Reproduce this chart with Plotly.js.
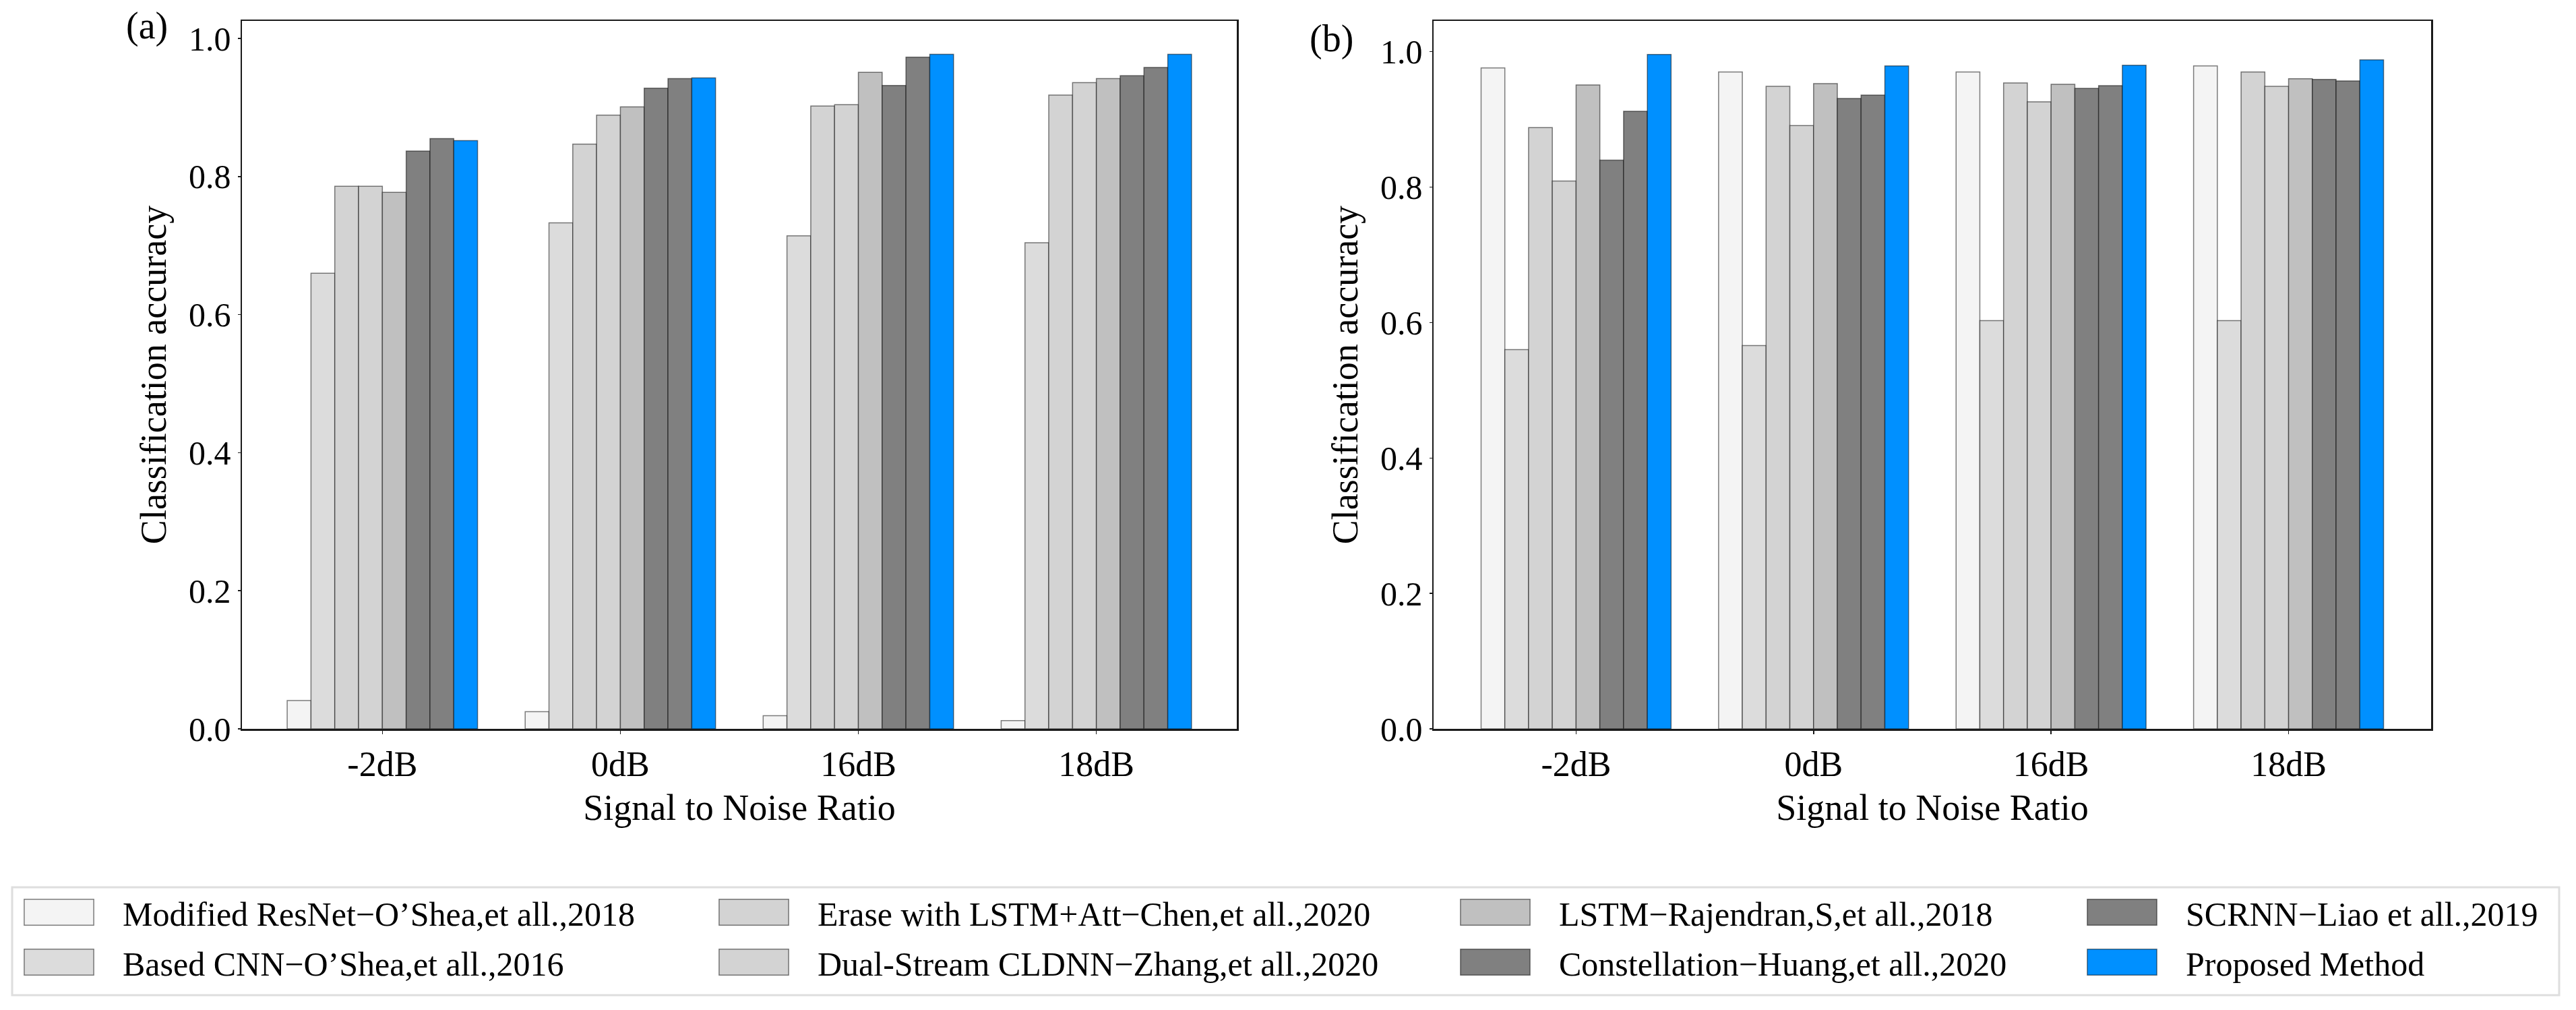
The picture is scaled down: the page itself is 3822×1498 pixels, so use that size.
<!DOCTYPE html>
<html>
<head>
<meta charset="utf-8">
<script src="https://cdn.plot.ly/plotly-3.0.1.min.js"></script>
<style>
  html, body { margin: 0; padding: 0; background: #ffffff; }
  #chart { width: 3822px; height: 1498px; }
  #chart svg text { font-family: 'Liberation Serif', 'Times New Roman', serif !important; }
</style>
</head>
<body>
<div id="chart"></div>
<script>
// ---------------- data ----------------
const categories = ['-2dB', '0dB', '16dB', '18dB'];

const seriesNames = [
  'Modified ResNet\u2212O\u2019Shea,et all.,2018',
  'Based CNN\u2212O\u2019Shea,et all.,2016',
  'Erase with LSTM+Att\u2212Chen,et all.,2020',
  'Dual-Stream CLDNN\u2212Zhang,et all.,2020',
  'LSTM\u2212Rajendran,S,et all.,2018',
  'Constellation\u2212Huang,et all.,2020',
  'SCRNN\u2212Liao et all.,2019',
  'Proposed Method'
];

const seriesColors = ['#f4f4f4', '#dcdcdc', '#d3d3d3', '#d3d3d3', '#c0c0c0', '#808080', '#808080', '#0090ff'];

// panel (a)
const resnetA = [0.041, 0.025, 0.019, 0.012];
const cnnA    = [0.660, 0.733, 0.714, 0.704];
const eraseA  = [0.786, 0.847, 0.902, 0.918];
const dualA   = [0.786, 0.889, 0.904, 0.936];
const lstmA   = [0.777, 0.901, 0.951, 0.942];
const constA  = [0.837, 0.928, 0.932, 0.946];
const scrnnA  = [0.855, 0.942, 0.973, 0.958];
const propA   = [0.852, 0.943, 0.977, 0.977];

// panel (b)
const resnetB = [0.976, 0.970, 0.970, 0.979];
const cnnB    = [0.560, 0.566, 0.603, 0.603];
const eraseB  = [0.888, 0.949, 0.954, 0.970];
const dualB   = [0.809, 0.891, 0.926, 0.949];
const lstmB   = [0.951, 0.953, 0.952, 0.960];
const constB  = [0.840, 0.931, 0.946, 0.959];
const scrnnB  = [0.912, 0.936, 0.950, 0.957];
const propB   = [0.996, 0.979, 0.980, 0.988];

const yTickVals = [0, 0.2, 0.4, 0.6, 0.8, 1.0];

// ---------------- build ----------------
const panelA = [resnetA, cnnA, eraseA, dualA, lstmA, constA, scrnnA, propA];
const panelB = [resnetB, cnnB, eraseB, dualB, lstmB, constB, scrnnB, propB];
const legendIds = ['legend', 'legend', 'legend2', 'legend2', 'legend3', 'legend3', 'legend4', 'legend4'];

const serifFamily = 'Liberation Serif';
const edgeColor = 'rgba(0,0,0,0.5)';

const traces = [];
panelA.forEach((vals, i) => {
  traces.push({
    type: 'bar', x: categories, y: vals, name: seriesNames[i],
    xaxis: 'x', yaxis: 'y',
    legendgroup: 'g' + i, legend: legendIds[i], showlegend: true,
    marker: { color: seriesColors[i], line: { color: edgeColor, width: 1.5 } }
  });
});
panelB.forEach((vals, i) => {
  traces.push({
    type: 'bar', x: categories, y: vals, name: seriesNames[i],
    xaxis: 'x2', yaxis: 'y2',
    legendgroup: 'g' + i, showlegend: false,
    marker: { color: seriesColors[i], line: { color: edgeColor, width: 1.5 } }
  });
});

// geometry helpers (pixel -> paper)
const IMG_W = 3822, IMG_H = 1498;
const MG = { l: 150, r: 215, t: 31, b: 417 };
const PW = IMG_W - MG.l - MG.r, PH = IMG_H - MG.t - MG.b;
const toPx = v => (v - MG.l) / PW;
const toPy = v => (IMG_H - MG.b - v) / PH;

function xAxis(domain, range) {
  return {
    domain: domain, range: range, type: 'category',
    showline: true, mirror: true, linecolor: '#1a1a1a', linewidth: 2.5,
    ticks: 'outside', ticklen: 5, tickwidth: 1.5, tickcolor: '#1a1a1a',
    showgrid: false, zeroline: false, automargin: false,
    tickfont: { family: serifFamily, size: 52, color: '#000' },
    title: { text: 'Signal to Noise Ratio', font: { family: serifFamily, size: 54, color: '#000' }, standoff: 18 }
  };
}
function yAxis(range, anchor) {
  return {
    domain: [0, 1], range: range, anchor: anchor,
    showline: true, mirror: true, linecolor: '#1a1a1a', linewidth: 2.5,
    ticks: 'outside', ticklen: 4, tickwidth: 1.5, tickcolor: '#1a1a1a',
    tickvals: yTickVals, tickformat: '.1f',
    showgrid: false, zeroline: false, automargin: false,
    tickfont: { family: serifFamily, size: 50, color: '#000' },
    title: { text: 'Classification accuracy', font: { family: serifFamily, size: 54, color: '#000' }, standoff: 16 }
  };
}

function legendAt(leftPx) {
  return {
    x: toPx(leftPx), xanchor: 'left', y: toPy(1314), yanchor: 'top',
    orientation: 'v', traceorder: 'grouped', tracegroupgap: 6,
    itemwidth: 179, bgcolor: 'rgba(0,0,0,0)', borderwidth: 0,
    font: { family: serifFamily, size: 50, color: '#000' },
    itemclick: false, itemdoubleclick: false
  };
}

const layout = {
  width: IMG_W, height: IMG_H,
  margin: { l: MG.l, r: MG.r, t: MG.t, b: MG.b, autoexpand: false },
  paper_bgcolor: '#ffffff', plot_bgcolor: '#ffffff',
  barmode: 'group', bargap: 0.2, bargroupgap: 0,
  font: { family: serifFamily, color: '#000' },
  xaxis: Object.assign(xAxis([toPx(359), toPx(1835)], [-0.59, 3.59]), { anchor: 'y' }),
  yaxis: yAxis([0, 1.0254], 'x'),
  xaxis2: Object.assign(xAxis([toPx(2127), toPx(3607)], [-0.6, 3.6]), { anchor: 'y2' }),
  yaxis2: yAxis([0, 1.0455], 'x2'),
  legend: legendAt(36 - 43),
  legend2: legendAt(1067 - 43),
  legend3: legendAt(2167 - 43),
  legend4: legendAt(3097 - 43),
  shapes: [{
    type: 'rect', xref: 'paper', yref: 'paper',
    x0: toPx(18), x1: toPx(3797), y0: toPy(1476), y1: toPy(1316),
    line: { color: '#dedede', width: 3 }, fillcolor: 'rgba(0,0,0,0)', layer: 'below'
  }],
  annotations: [
    { text: '(a)', xref: 'paper', yref: 'paper', x: toPx(218), y: toPy(38), xanchor: 'center', yanchor: 'middle',
      showarrow: false, font: { family: serifFamily, size: 56, color: '#000' } },
    { text: '(b)', xref: 'paper', yref: 'paper', x: toPx(1975), y: toPy(58), xanchor: 'center', yanchor: 'middle',
      showarrow: false, font: { family: serifFamily, size: 56, color: '#000' } }
  ]
};

Plotly.newPlot('chart', traces, layout, { staticPlot: true, displayModeBar: false }).then(() => {
  document.querySelectorAll('g.legendpoints path').forEach(p => {
    const t = p.getAttribute('transform') || '';
    p.setAttribute('transform', t + ' scale(8.6,3.2)');
    p.style.vectorEffect = 'non-scaling-stroke';
  });
});
</script>
</body>
</html>
